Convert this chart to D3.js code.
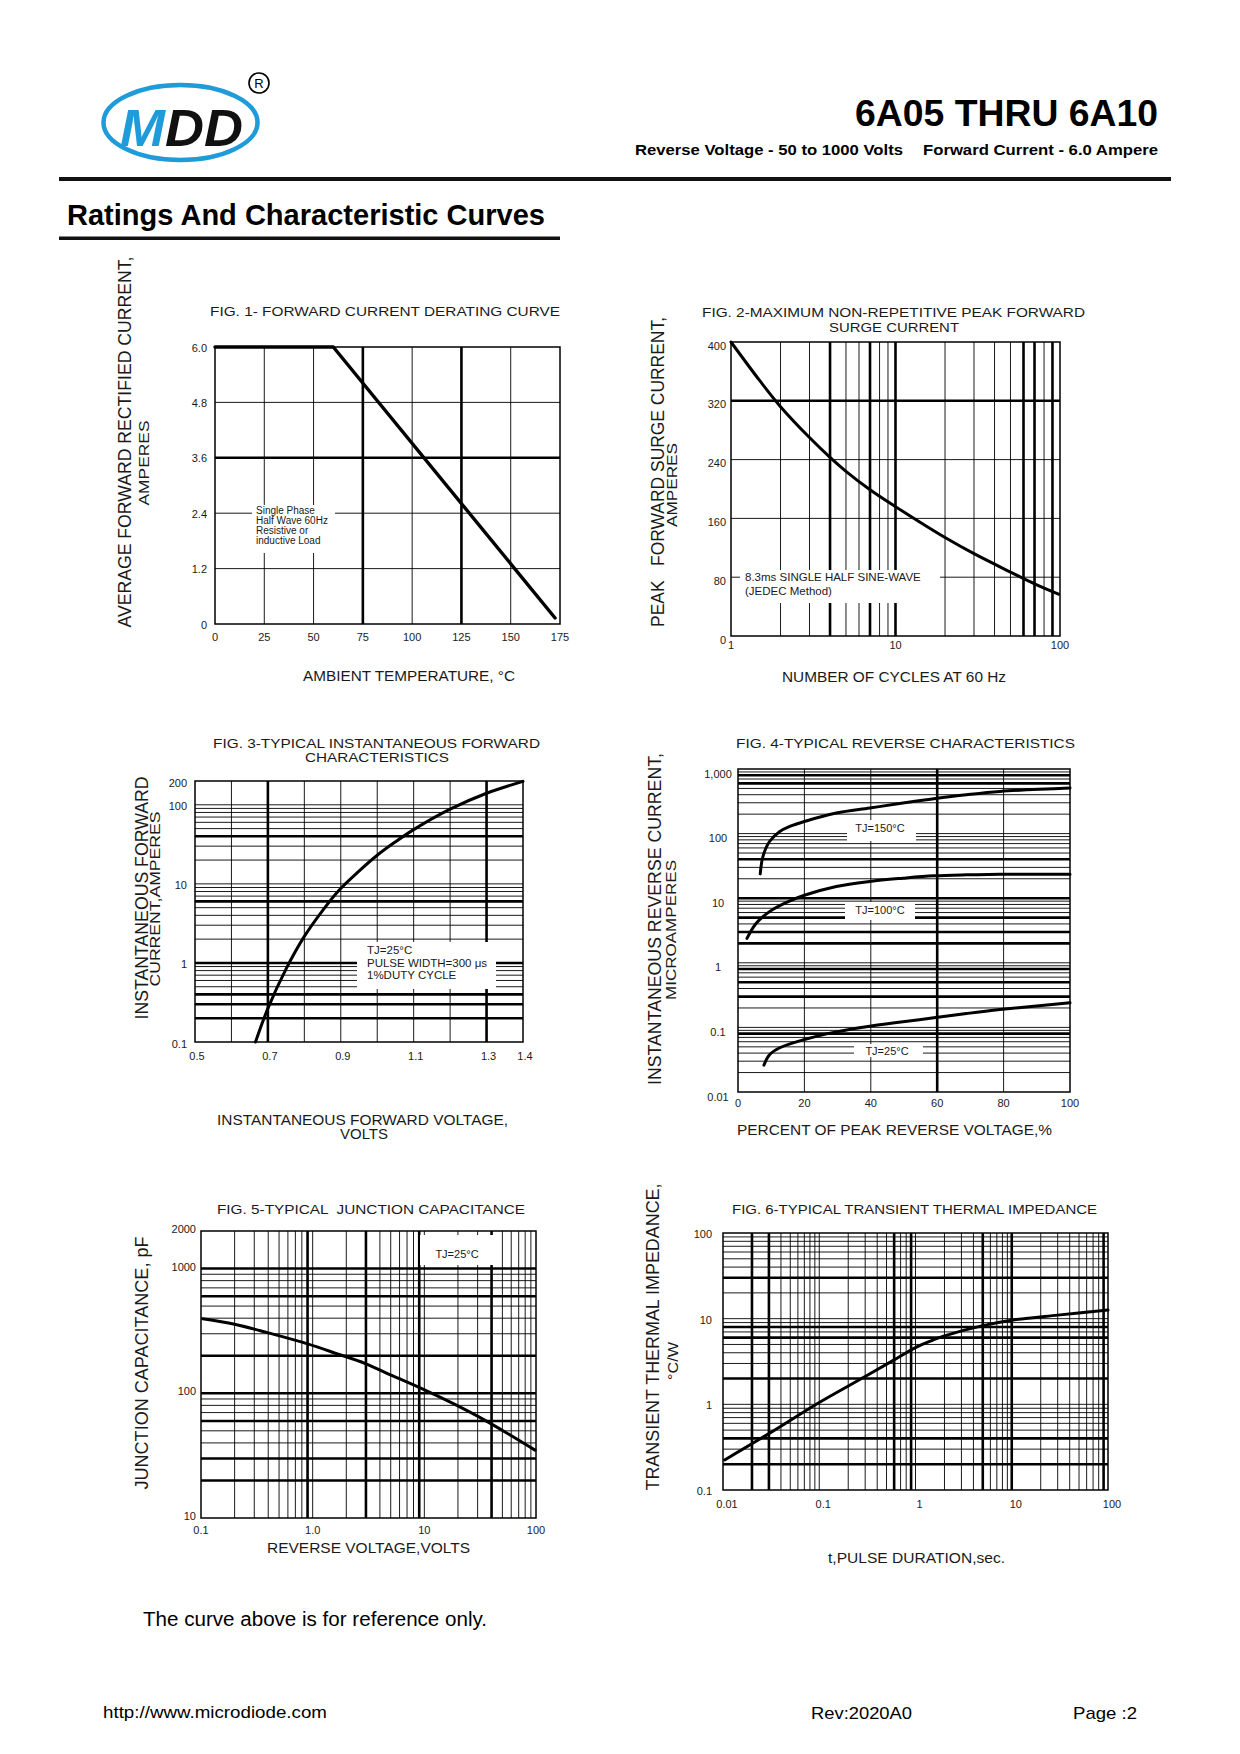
<!DOCTYPE html>
<html><head><meta charset="utf-8">
<script src="https://cdn.jsdelivr.net/npm/d3@7"></script>
<style>
html,body{margin:0;padding:0;background:#fff;}
svg{display:block;}
</style></head><body>
<svg id="page" width="1240" height="1754"></svg>
<script>
// ---------------- DATA ----------------
const partTitle = "6A05 THRU 6A10";
const specLeft = "Reverse Voltage - 50 to 1000 Volts";
const specRight = "Forward Current - 6.0 Ampere";
const sectionTitle = "Ratings And Characteristic Curves";
const footNote = "The curve above is for reference only.";
const footerUrl = "http://www.microdiode.com";
const footerRev = "Rev:2020A0";
const footerPage = "Page :2";

// FIG 1 - derating
const fig1Temp = [0, 60, 172.5];
const fig1Amps = [6.0, 6.0, 0.13];
const fig1XTicks = [0, 25, 50, 75, 100, 125, 150, 175];
const fig1XTickLabels = ["0", "25", "50", "75", "100", "125", "150", "175"];
const fig1YTicks = [0, 1.2, 2.4, 3.6, 4.8, 6.0];
const fig1YTickLabels = ["0", "1.2", "2.4", "3.6", "4.8", "6.0"];
const fig1XGrid = [25, 50, 75, 100, 125, 150];
const fig1YGrid = [1.2, 2.4, 3.6, 4.8];
const fig1XThick = [75, 125];
const fig1YThick = [3.6];
const fig1Note = ["Single Phase", "Half Wave 60Hz", "Resistive or", "inductive Load"];

// FIG 2 - surge current
const fig2Cycles = [1, 1.5, 2, 3, 4, 5, 7, 10, 15, 20, 30, 50, 70, 98];
const fig2Amps = [400, 347, 312, 270, 243, 224, 199, 176, 151, 134, 112, 87, 71, 57];
const fig2XTicks = [1, 10, 100];
const fig2XTickLabels = ["1", "10", "100"];
const fig2YTicks = [0, 80, 160, 240, 320, 400];
const fig2YTickLabels = ["0", "80", "160", "240", "320", "400"];
const fig2YGrid = [80, 160, 240, 320];
const fig2XThick = [4, 7, 10, 60, 70, 90];
const fig2YThick = [320];
const fig2Note = ["8.3ms SINGLE HALF SINE-WAVE", "(JEDEC Method)"];

// FIG 3 - forward characteristics
const fig3Volts = [0.666, 0.7, 0.751, 0.8, 0.85, 0.894, 0.95, 1.0, 1.05, 1.1, 1.2, 1.3, 1.4];
const fig3Amps = [0.1, 0.266, 0.86, 2.17, 4.6, 8.2, 14.5, 23, 34, 48.5, 88, 140, 198];
const fig3XTicks = [0.5, 0.7, 0.9, 1.1, 1.3, 1.4];
const fig3XTickLabels = ["0.5", "0.7", "0.9", "1.1", "1.3", "1.4"];
const fig3YTicks = [0.1, 1, 10, 100, 200];
const fig3YTickLabels = ["0.1", "1", "10", "100", "200"];
const fig3XGrid = [0.6, 0.7, 0.8, 0.9, 1.0, 1.1, 1.2, 1.3];
const fig3XThick = [0.7, 1.3];
const fig3YThick = [0.2, 0.3, 0.4, 1, 6, 40];
const fig3Note = ["TJ=25°C", "PULSE WIDTH=300 μs", "1%DUTY CYCLE"];

// FIG 4 - reverse characteristics
const fig4Pct150 = [6.7, 7.5, 9.5, 12.6, 15.6, 20, 29.6, 39.7, 49.7, 59, 68.8, 78.9, 100];
const fig4Ir150 = [23.8, 44, 75.5, 108, 129, 154, 208, 249, 297, 347, 400, 450, 507];
const fig4Pct100 = [2.7, 5.5, 9.5, 14.6, 20, 29.6, 39.7, 49.7, 59, 68.8, 78.9, 100];
const fig4Ir100 = [2.39, 4.1, 6.2, 8.6, 11.1, 15.2, 18.2, 20.4, 22.2, 23.0, 23.4, 23.5];
const fig4Pct25 = [7.8, 9.5, 12.6, 20, 29.6, 39.7, 49.7, 59, 68.8, 78.9, 100];
const fig4Ir25 = [0.026, 0.0378, 0.0484, 0.0649, 0.0853, 0.1044, 0.122, 0.1406, 0.164, 0.189, 0.24];
const fig4XTicks = [0, 20, 40, 60, 80, 100];
const fig4XTickLabels = ["0", "20", "40", "60", "80", "100"];
const fig4YTicks = [0.01, 0.1, 1, 10, 100, 1000];
const fig4YTickLabels = ["0.01", "0.1", "1", "10", "100", "1,000"];
const fig4XGrid = [20, 40, 60, 80];
const fig4XThick = [60];
const fig4YThick = [800, 600, 40, 10, 5, 3, 2, 0.8, 0.5, 0.3, 0.08];
const fig4Labels = ["TJ=150°C", "TJ=100°C", "TJ=25°C"];

// FIG 5 - junction capacitance
const fig5Volts = [0.1035, 0.2, 0.4, 0.9, 1.64, 2.96, 5.1, 9.5, 18.2, 35, 58.2, 98];
const fig5Cap = [396, 358, 305, 249, 208, 173, 139, 109, 82.5, 60.7, 46.5, 35];
const fig5XTicks = [0.1, 1, 10, 100];
const fig5XTickLabels = ["0.1", "1.0", "10", "100"];
const fig5YTicks = [10, 100, 1000, 2000];
const fig5YTickLabels = ["10", "100", "1000", "2000"];
const fig5XThick = [0.9, 3, 9, 40];
const fig5YThick = [20, 30, 60, 100, 200, 600, 1000];
const fig5Note = ["TJ=25°C"];

// FIG 6 - transient thermal impedance
const fig6Time = [0.0104, 0.03, 0.1, 0.3, 0.6, 1, 1.5, 2, 5, 10, 30, 100];
const fig6Z = [0.224, 0.455, 1.05, 2.11, 3.3, 4.6, 5.6, 6.3, 8.3, 9.6, 11, 12.6];
const fig6XTicks = [0.01, 0.1, 1, 10, 100];
const fig6XTickLabels = ["0.01", "0.1", "1", "10", "100"];
const fig6YTicks = [0.1, 1, 10, 100];
const fig6YTickLabels = ["0.1", "1", "10", "100"];
const fig6XThick = [0.02, 0.03, 0.6, 0.9, 5, 10, 90];
const fig6YThick = [30, 8, 6, 2, 0.4, 0.2];

// ---------------- HELPERS ----------------
const svg = d3.select("#page");
const FONT = '"Liberation Sans", Arial, Helvetica, sans-serif';
const INK = "#1a1a1a";

function logGrid(min, max) {
  const out = [];
  for (let d = Math.floor(Math.log10(min)); d <= Math.ceil(Math.log10(max)); d++)
    for (let k = 1; k < 10; k++) {
      const v = +(k * Math.pow(10, d)).toPrecision(6);
      if (v > min * 1.0001 && v < max * 0.9999) out.push(v);
    }
  return out;
}
function txt(parent, s, x, y, fs, o = {}) {
  const t = parent.append("text").attr("x", x).attr("y", y).attr("font-size", fs)
    .attr("fill", o.fill || INK).attr("font-family", o.family || FONT)
    .attr("font-weight", o.weight || "normal").attr("text-anchor", o.anchor || "start")
    .style("white-space", "pre").text(s);
  if (o.len) t.attr("textLength", o.len).attr("lengthAdjust", "spacingAndGlyphs");
  if (o.italic) t.attr("font-style", "italic");
  return t;
}
function vtxt(parent, s, cx, cy, fs, len) {
  parent.append("text").attr("transform", `translate(${cx + fs * 0.36},${cy}) rotate(-90)`)
    .attr("text-anchor", "middle").attr("font-size", fs).attr("font-family", FONT).attr("fill", INK)
    .attr("textLength", len).attr("lengthAdjust", "spacingAndGlyphs")
    .style("white-space", "pre").text(s);
}
const isIn = (arr, d) => arr.some(t => Math.abs(t - d) <= 1e-6 * Math.abs(t));

function drawChart(c) {
  const [L, R, T, B] = c.box;
  const x = (c.xLog ? d3.scaleLog() : d3.scaleLinear()).domain(c.xDomain).range([L, R]);
  const y = (c.yLog ? d3.scaleLog() : d3.scaleLinear()).domain(c.yDomain).range([B, T]);
  const g = svg.append("g");
  g.append("g").selectAll("line").data(c.xGrid).join("line")
    .attr("x1", d => x(d)).attr("x2", d => x(d)).attr("y1", T).attr("y2", B)
    .attr("stroke", "#000").attr("stroke-width", d => isIn(c.xThick, d) ? 2.6 : 0.9);
  g.append("g").selectAll("line").data(c.yGrid).join("line")
    .attr("y1", d => y(d)).attr("y2", d => y(d)).attr("x1", L).attr("x2", R)
    .attr("stroke", "#000").attr("stroke-width", d => isIn(c.yThick, d) ? 2.6 : 0.9);
  g.append("rect").attr("x", L).attr("y", T).attr("width", R - L).attr("height", B - T)
    .attr("fill", "none").attr("stroke", "#000").attr("stroke-width", 1.5);
  (c.masks || []).forEach(m => g.append("rect").attr("x", m[0]).attr("y", m[1])
    .attr("width", m[2]).attr("height", m[3]).attr("fill", "#fff"));
  (c.notes || []).forEach(n => n.lines.forEach((s, i) =>
    txt(g, s, n.x, n.ys[i], n.fs, { anchor: n.anchor || "start" })));
  c.series.forEach(s => {
    const line = d3.line().x(d => x(d[0])).y(d => y(d[1]))
      .curve(s.linear ? d3.curveLinear : d3.curveCatmullRom.alpha(0.5));
    g.append("path").datum(d3.zip(s.x, s.y)).attr("d", line)
      .attr("fill", "none").attr("stroke", "#000").attr("stroke-width", c.lw || 3)
      .attr("stroke-linecap", "round").attr("stroke-linejoin", "round");
  });
  c.xTicks.forEach((v, i) => txt(g, c.xTickLabels[i], x(v) + (c.xTickDx || 0), c.xTickY, c.tickFs || 11, { anchor: "middle" }));
  c.yTicks.forEach((v, i) => txt(g, c.yTickLabels[i], c.yTickX, y(v) + c.yTickDy, c.tickFs || 11, { anchor: c.yTickAnchor || "end" }));
  c.titles.forEach(t => txt(g, t.s, t.x, t.y, 13.5, { len: t.len, anchor: t.anchor || "start" }));
  c.xLabels.forEach(t => txt(g, t.s, t.x, t.y, 15, { len: t.len, anchor: t.anchor || "start" }));
  c.yLabels.forEach(t => vtxt(g, t.s, t.cx, t.cy, t.fs, t.len));
}

// ---------------- HEADER ----------------
svg.append("ellipse").attr("cx", 180.5).attr("cy", 122.5).attr("rx", 77).attr("ry", 37.5)
  .attr("fill", "none").attr("stroke", "#1e9bd8").attr("stroke-width", 4.5);
const logo = svg.append("text").attr("x", 120).attr("y", 146).attr("font-size", 52)
  .attr("font-family", FONT).attr("font-weight", "bold").attr("font-style", "italic")
  .attr("textLength", 123).attr("lengthAdjust", "spacingAndGlyphs");
logo.append("tspan").attr("fill", "#1e9bd8").text("M");
logo.append("tspan").attr("fill", "#111").text("DD");
svg.append("circle").attr("cx", 259).attr("cy", 83).attr("r", 10).attr("fill", "none")
  .attr("stroke", "#000").attr("stroke-width", 1.6);
txt(svg, "R", 259, 88, 13, { anchor: "middle", fill: "#000" });

txt(svg, partTitle, 1158, 126, 36, { weight: "bold", anchor: "end", len: 303, fill: "#000" });
txt(svg, specLeft, 635, 155, 15, { weight: "bold", len: 268, fill: "#000" });
txt(svg, specRight, 1158, 155, 15, { weight: "bold", anchor: "end", len: 235, fill: "#000" });
svg.append("rect").attr("x", 59).attr("y", 177).attr("width", 1112).attr("height", 4).attr("fill", "#111");
txt(svg, sectionTitle, 67, 225, 30, { weight: "bold", len: 478, fill: "#000" });
svg.append("rect").attr("x", 59).attr("y", 236.5).attr("width", 501).attr("height", 3.5).attr("fill", "#111");

// ---------------- CHARTS ----------------
drawChart({
  box: [215, 560, 347, 624], xDomain: [0, 175], yDomain: [0, 6],
  xGrid: fig1XGrid, yGrid: fig1YGrid, xThick: fig1XThick, yThick: fig1YThick,
  masks: [[252, 505, 83, 48]],
  notes: [{ lines: fig1Note, x: 256, ys: [513.5, 523.5, 534, 544], fs: 10 }],
  series: [{ x: fig1Temp, y: fig1Amps, linear: true }], lw: 3.4,
  xTicks: fig1XTicks, xTickLabels: fig1XTickLabels, xTickY: 640.5,
  yTicks: fig1YTicks, yTickLabels: fig1YTickLabels, yTickX: 207, yTickDy: 4.5,
  titles: [{ s: "FIG. 1- FORWARD CURRENT DERATING CURVE", x: 210, y: 316, len: 350 }],
  xLabels: [{ s: "AMBIENT TEMPERATURE, °C", x: 303, y: 681, len: 212 }],
  yLabels: [{ s: "AVERAGE FORWARD RECTIFIED CURRENT,", cx: 125, cy: 442, fs: 18, len: 371 },
            { s: "AMPERES", cx: 144, cy: 463, fs: 15, len: 85 }]
});

drawChart({
  box: [731, 1060, 342, 636], xLog: true, xDomain: [1, 100], yDomain: [0, 400],
  xGrid: logGrid(1, 100), yGrid: fig2YGrid, xThick: fig2XThick, yThick: fig2YThick,
  masks: [[740, 570, 200, 33]],
  notes: [{ lines: fig2Note, x: 745, ys: [581, 595], fs: 11.5 }],
  series: [{ x: fig2Cycles, y: fig2Amps }],
  xTicks: fig2XTicks, xTickLabels: fig2XTickLabels, xTickY: 649,
  yTicks: fig2YTicks, yTickLabels: fig2YTickLabels, yTickX: 726, yTickDy: 7.5,
  titles: [{ s: "FIG. 2-MAXIMUM NON-REPETITIVE PEAK FORWARD", x: 702, y: 317, len: 383 },
           { s: "SURGE CURRENT", x: 829, y: 332, len: 130 }],
  xLabels: [{ s: "NUMBER OF CYCLES AT 60 Hz", x: 782, y: 681.5, len: 224 }],
  yLabels: [{ s: "PEAK   FORWARD SURGE CURRENT,", cx: 658, cy: 472, fs: 18, len: 310 },
            { s: "AMPERES", cx: 672, cy: 485, fs: 15, len: 84 }]
});

drawChart({
  box: [195, 523, 781, 1042], xDomain: [0.5, 1.4], yLog: true, yDomain: [0.1, 200],
  xGrid: fig3XGrid, yGrid: logGrid(0.1, 200), xThick: fig3XThick, yThick: fig3YThick,
  masks: [[357, 942, 139, 47]],
  notes: [{ lines: fig3Note, x: 367, ys: [953.5, 967, 979], fs: 11.5 }],
  series: [{ x: fig3Volts, y: fig3Amps }],
  xTicks: fig3XTicks, xTickLabels: fig3XTickLabels, xTickY: 1060, xTickDx: 2,
  yTicks: fig3YTicks, yTickLabels: fig3YTickLabels, yTickX: 187, yTickDy: 5.5,
  titles: [{ s: "FIG. 3-TYPICAL INSTANTANEOUS FORWARD", x: 213, y: 747.5, len: 327 },
           { s: "CHARACTERISTICS", x: 305, y: 762, len: 144 }],
  xLabels: [{ s: "INSTANTANEOUS FORWARD VOLTAGE,", x: 217, y: 1125, len: 291 },
            { s: "VOLTS", x: 364, y: 1138.5, len: 48, anchor: "middle" }],
  yLabels: [{ s: "INSTANTANEOUS FORWARD", cx: 141.5, cy: 898, fs: 18, len: 243 },
            { s: "CURRENT,AMPERES", cx: 155, cy: 899, fs: 15, len: 175 }]
});

drawChart({
  box: [738, 1070, 769, 1092], xDomain: [0, 100], yLog: true, yDomain: [0.01, 1000],
  xGrid: fig4XGrid, yGrid: logGrid(0.01, 1000), xThick: fig4XThick, yThick: fig4YThick,
  masks: [[847, 820, 69, 21], [845, 902, 70, 18], [854, 1044, 69, 13]],
  notes: [{ lines: [fig4Labels[0]], x: 880, ys: [831.5], fs: 11, anchor: "middle" },
          { lines: [fig4Labels[1]], x: 880, ys: [913.5], fs: 11, anchor: "middle" },
          { lines: [fig4Labels[2]], x: 887, ys: [1055], fs: 11, anchor: "middle" }],
  series: [{ x: fig4Pct150, y: fig4Ir150 }, { x: fig4Pct100, y: fig4Ir100 }, { x: fig4Pct25, y: fig4Ir25 }],
  xTicks: fig4XTicks, xTickLabels: fig4XTickLabels, xTickY: 1107,
  yTicks: fig4YTicks, yTickLabels: fig4YTickLabels, yTickX: 718, yTickDy: 8.5, yTickAnchor: "middle",
  titles: [{ s: "FIG. 4-TYPICAL REVERSE CHARACTERISTICS", x: 736, y: 748, len: 339 }],
  xLabels: [{ s: "PERCENT OF PEAK REVERSE VOLTAGE,%", x: 737, y: 1135, len: 315 }],
  yLabels: [{ s: "INSTANTANEOUS REVERSE CURRENT,", cx: 655, cy: 919, fs: 18, len: 332 },
            { s: "MICROAMPERES", cx: 671, cy: 930, fs: 15, len: 140 }]
});

drawChart({
  box: [201, 536, 1231, 1518], xLog: true, xDomain: [0.1, 100], yLog: true, yDomain: [10, 2000],
  xGrid: logGrid(0.1, 100), yGrid: logGrid(10, 2000), xThick: fig5XThick, yThick: fig5YThick,
  masks: [[420, 1235, 75, 30]],
  notes: [{ lines: fig5Note, x: 457, ys: [1258], fs: 11, anchor: "middle" }],
  series: [{ x: fig5Volts, y: fig5Cap }],
  xTicks: fig5XTicks, xTickLabels: fig5XTickLabels, xTickY: 1533.5,
  yTicks: fig5YTicks, yTickLabels: fig5YTickLabels, yTickX: 196, yTickDy: 2,
  titles: [{ s: "FIG. 5-TYPICAL  JUNCTION CAPACITANCE", x: 217, y: 1214, len: 308 }],
  xLabels: [{ s: "REVERSE VOLTAGE,VOLTS", x: 267, y: 1553, len: 203 }],
  yLabels: [{ s: "JUNCTION CAPACITANCE, pF", cx: 141.7, cy: 1363, fs: 18, len: 253 }]
});

drawChart({
  box: [723, 1108, 1233, 1490], xLog: true, xDomain: [0.01, 100], yLog: true, yDomain: [0.1, 100],
  xGrid: logGrid(0.01, 100), yGrid: logGrid(0.1, 100), xThick: fig6XThick, yThick: fig6YThick,
  series: [{ x: fig6Time, y: fig6Z }],
  xTicks: fig6XTicks, xTickLabels: fig6XTickLabels, xTickY: 1508, xTickDx: 4,
  yTicks: fig6YTicks, yTickLabels: fig6YTickLabels, yTickX: 712, yTickDy: 5,
  titles: [{ s: "FIG. 6-TYPICAL TRANSIENT THERMAL IMPEDANCE", x: 732, y: 1214, len: 365 }],
  xLabels: [{ s: "t,PULSE DURATION,sec.", x: 828, y: 1563, len: 177 }],
  yLabels: [{ s: "TRANSIENT THERMAL IMPEDANCE,", cx: 653, cy: 1337, fs: 18, len: 307 },
            { s: "°C/W", cx: 672.5, cy: 1361, fs: 15, len: 38 }]
});

// ---------------- FOOTER ----------------
txt(svg, footNote, 143, 1626, 20, { len: 344, fill: "#000" });
txt(svg, footerUrl, 103, 1718, 17, { len: 224, fill: "#000" });
txt(svg, footerRev, 811, 1719, 17, { len: 101, fill: "#000" });
txt(svg, footerPage, 1073, 1719, 17, { len: 64, fill: "#000" });
</script></body></html>
